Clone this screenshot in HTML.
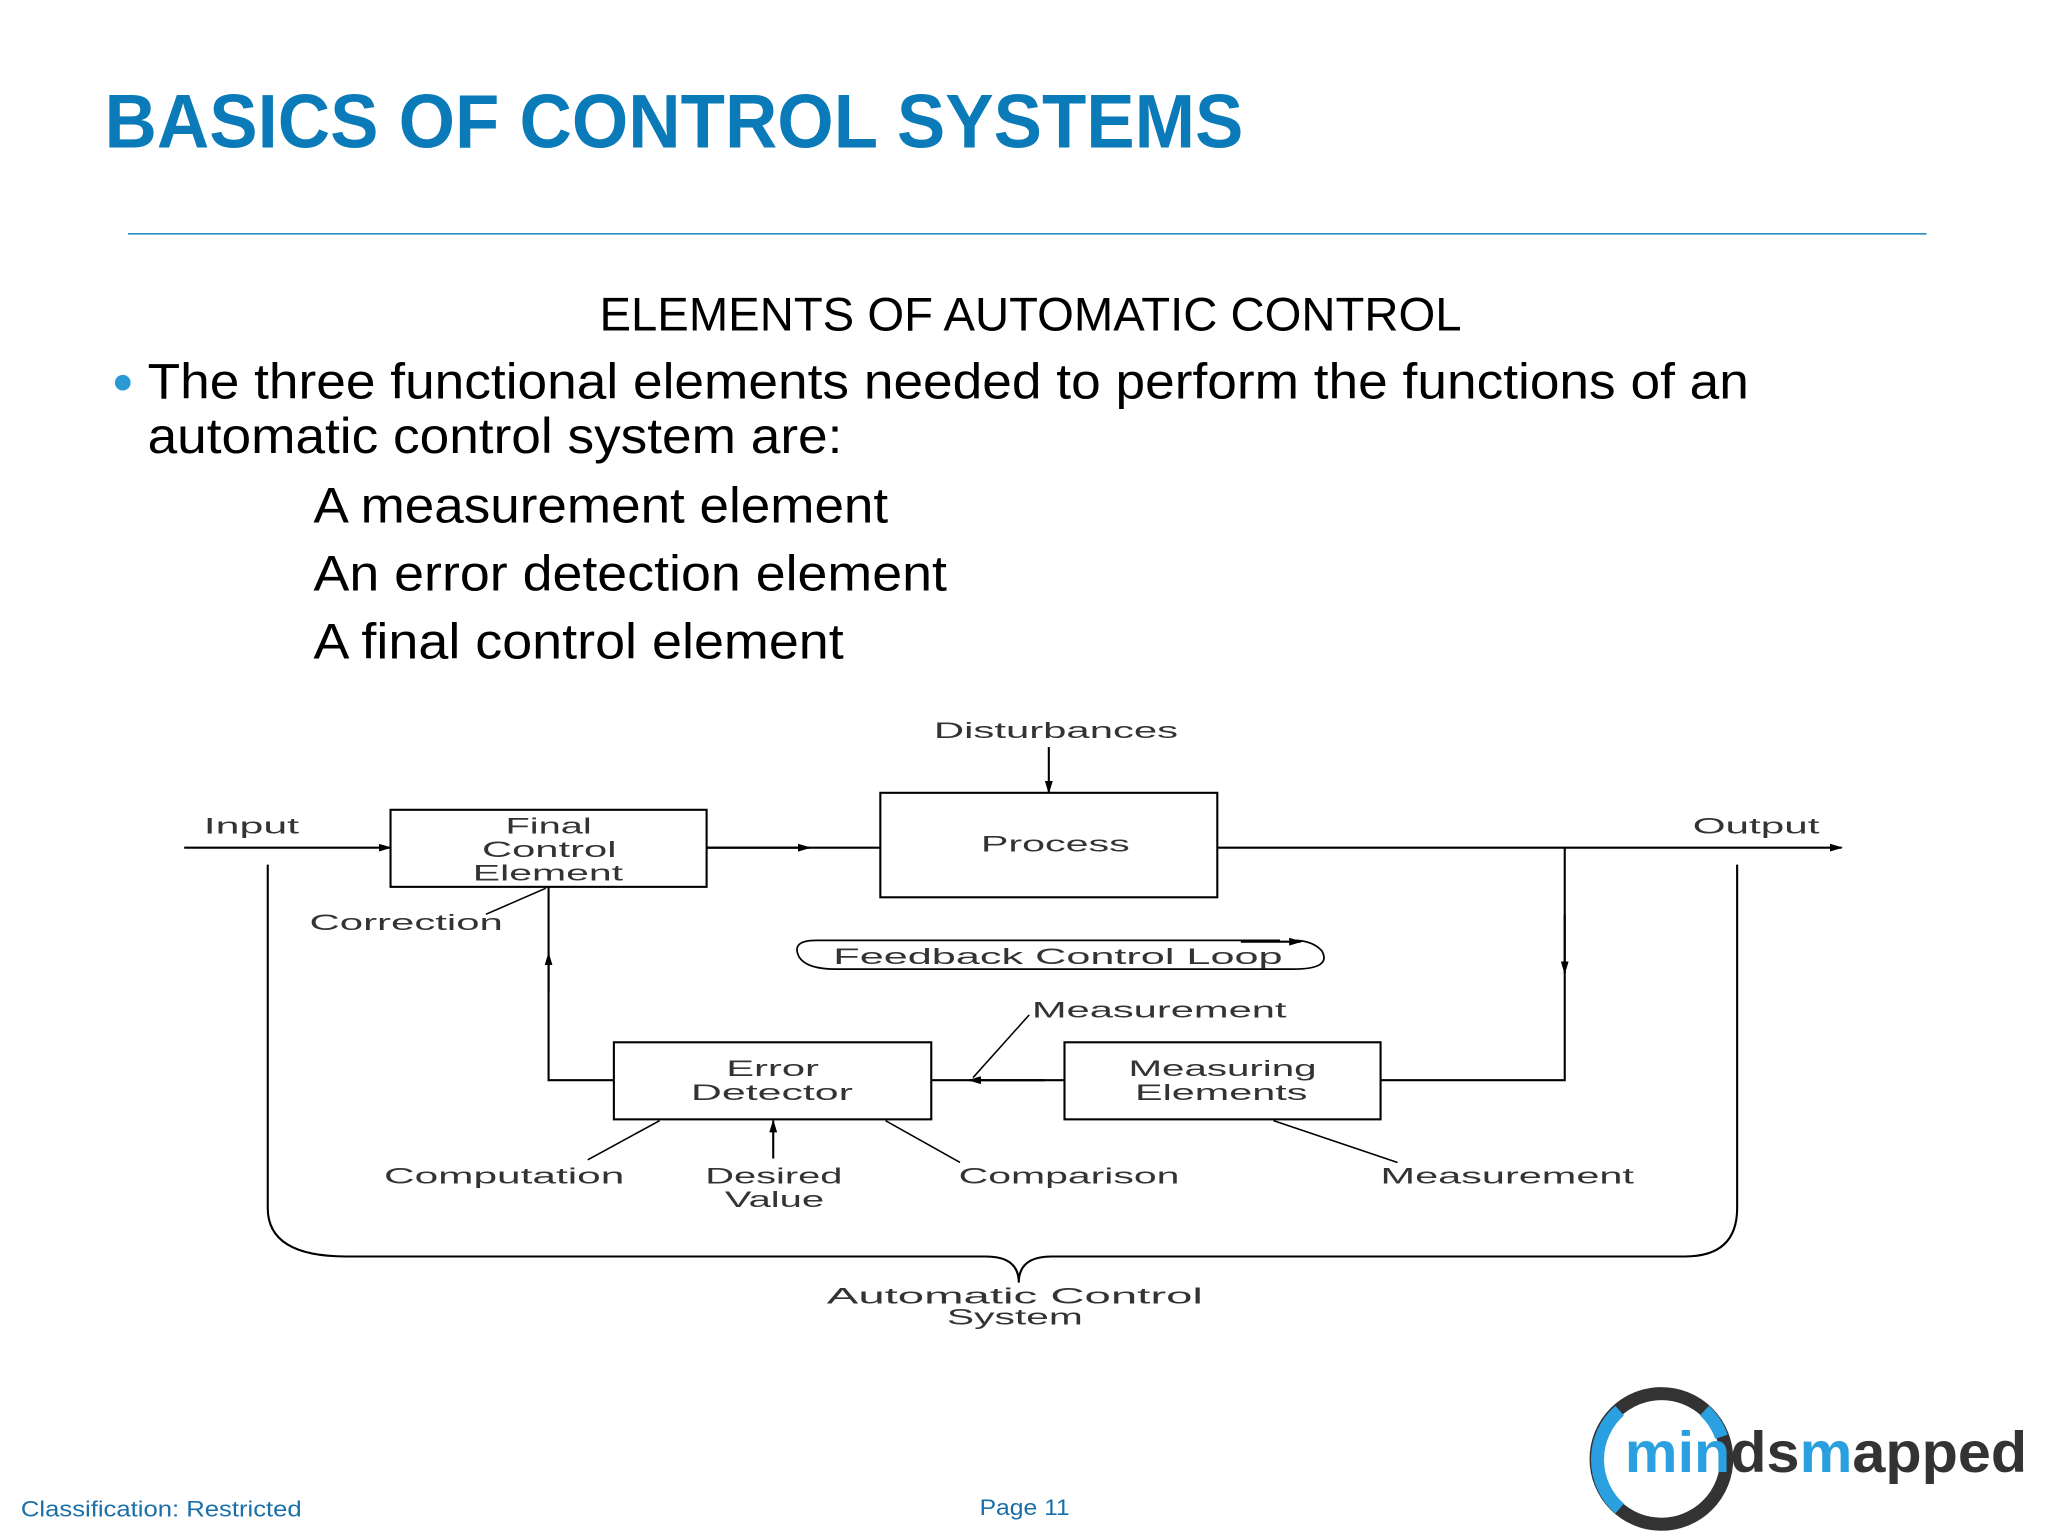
<!DOCTYPE html>
<html><head><meta charset="utf-8"><style>
html,body{margin:0;padding:0;background:#fff;}
svg{display:block;}
.d{font-family:"Liberation Sans",sans-serif;font-size:17px;fill:#333;}
.b{font-family:"Liberation Sans",sans-serif;fill:#000;}
</style></head><body>
<svg width="2048" height="1536" viewBox="0 0 1568 1176" preserveAspectRatio="none" xmlns="http://www.w3.org/2000/svg">
<defs><marker id="a" markerWidth="10" markerHeight="8" refX="9" refY="4" orient="auto" markerUnits="userSpaceOnUse"><path d="M0,1 L10,4 L0,7 Z" fill="#000"/></marker></defs>
<text x="80" y="113" class="b" font-size="58" font-weight="bold" style="fill:#0a7bb8" textLength="872" lengthAdjust="spacingAndGlyphs">BASICS OF CONTROL SYSTEMS</text>
<line x1="98" y1="179" x2="1475" y2="179" stroke="#2a8ac4" stroke-width="1.2"/>
<text x="459" y="253" class="b" font-size="36" textLength="660" lengthAdjust="spacingAndGlyphs">ELEMENTS OF AUTOMATIC CONTROL</text>
<circle cx="94" cy="293" r="6" fill="#2a9ad4"/>
<text x="113" y="305" class="b" font-size="38" textLength="1226" lengthAdjust="spacingAndGlyphs">The three functional elements needed to perform the functions of an</text>
<text x="113" y="347" class="b" font-size="38" textLength="532" lengthAdjust="spacingAndGlyphs">automatic control system are:</text>
<text x="240" y="400" class="b" font-size="38" textLength="440" lengthAdjust="spacingAndGlyphs">A measurement element</text>
<text x="240" y="452" class="b" font-size="38" textLength="485" lengthAdjust="spacingAndGlyphs">An error detection element</text>
<text x="240" y="504" class="b" font-size="38" textLength="406" lengthAdjust="spacingAndGlyphs">A final control element</text>

<g stroke="#000" stroke-width="1.6" fill="none">
<rect x="299" y="620" width="242" height="59"/>
<rect x="674" y="607" width="258" height="80"/>
<rect x="470" y="798" width="243" height="59"/>
<rect x="815" y="798" width="242" height="59"/>
<line x1="141" y1="649" x2="299" y2="649" marker-end="url(#a)"/>
<line x1="541" y1="649" x2="674" y2="649"/>
<line x1="541" y1="649" x2="620" y2="649" marker-end="url(#a)"/>
<line x1="932" y1="649" x2="1410" y2="649" marker-end="url(#a)"/>
<line x1="803" y1="572" x2="803" y2="607" marker-end="url(#a)"/>
<polyline points="1198,649 1198,827 1057,827"/>
<line x1="1198" y1="700" x2="1198" y2="745" marker-end="url(#a)"/>
<line x1="815" y1="827" x2="713" y2="827"/>
<line x1="800" y1="827" x2="742" y2="827" marker-end="url(#a)"/>
<polyline points="470,827 420,827 420,679"/>
<line x1="420" y1="760" x2="420" y2="730" marker-end="url(#a)"/>
<line x1="592" y1="887" x2="592" y2="858" marker-end="url(#a)"/>
<line x1="788" y1="777" x2="745" y2="825" stroke-width="1.2"/>
<line x1="450" y1="888" x2="505" y2="858" stroke-width="1.2"/>
<line x1="735" y1="890" x2="678" y2="858" stroke-width="1.2"/>
<line x1="1070" y1="890" x2="975" y2="858" stroke-width="1.2"/>
<line x1="372" y1="700" x2="418" y2="680" stroke-width="1.2"/>
<path d="M205,662 V925 Q205,962 265,962 H755 Q780,962 780,982 Q780,962 805,962 H1290 Q1330,962 1330,925 V662"/>
<path d="M980,720 H625 Q605,720 612,733 Q618,742 640,742 H990 Q1020,742 1012,728 Q1005,720 990,720" stroke-width="1.3"/>
<line x1="950" y1="721" x2="996" y2="721" marker-end="url(#a)"/>
</g>
<g class="d">
<text x="715" y="565" textLength="187" lengthAdjust="spacingAndGlyphs">Disturbances</text>
<text x="156" y="638" textLength="73" lengthAdjust="spacingAndGlyphs">Input</text>
<text x="1296" y="638" textLength="97" lengthAdjust="spacingAndGlyphs">Output</text>
<text x="387" y="638" textLength="66" lengthAdjust="spacingAndGlyphs">Final</text>
<text x="369" y="656" textLength="103" lengthAdjust="spacingAndGlyphs">Control</text>
<text x="362" y="674" textLength="115" lengthAdjust="spacingAndGlyphs">Element</text>
<text x="751" y="652" textLength="114" lengthAdjust="spacingAndGlyphs">Process</text>
<text x="237" y="712" textLength="148" lengthAdjust="spacingAndGlyphs">Correction</text>
<text x="638" y="738" textLength="344" lengthAdjust="spacingAndGlyphs">Feedback  Control  Loop</text>
<text x="790" y="779" textLength="195" lengthAdjust="spacingAndGlyphs">Measurement</text>
<text x="556" y="824" textLength="71" lengthAdjust="spacingAndGlyphs">Error</text>
<text x="529" y="842" textLength="124" lengthAdjust="spacingAndGlyphs">Detector</text>
<text x="864" y="824" textLength="144" lengthAdjust="spacingAndGlyphs">Measuring</text>
<text x="869" y="842" textLength="132" lengthAdjust="spacingAndGlyphs">Elements</text>
<text x="294" y="906" textLength="184" lengthAdjust="spacingAndGlyphs">Computation</text>
<text x="540" y="906" textLength="105" lengthAdjust="spacingAndGlyphs">Desired</text>
<text x="555" y="924" textLength="76" lengthAdjust="spacingAndGlyphs">Value</text>
<text x="734" y="906" textLength="169" lengthAdjust="spacingAndGlyphs">Comparison</text>
<text x="1057" y="906" textLength="194" lengthAdjust="spacingAndGlyphs">Measurement</text>
<text x="633" y="998" textLength="288" lengthAdjust="spacingAndGlyphs">Automatic    Control</text>
<text x="725" y="1014" textLength="104" lengthAdjust="spacingAndGlyphs">System</text>
</g>
<circle cx="1272" cy="1117" r="50" fill="none" stroke="#333" stroke-width="10"/>
<path d="M1240,1080 A50,50 0 0,0 1240,1155" fill="none" stroke="#2aa0e0" stroke-width="10"/>
<path d="M1305,1080 A50,50 0 0,1 1318,1100" fill="none" stroke="#2aa0e0" stroke-width="10"/>
<text x="1244" y="1127" font-family="Liberation Sans,sans-serif" font-weight="bold" font-size="44" textLength="308" lengthAdjust="spacingAndGlyphs"><tspan fill="#2aa0e0">min</tspan><tspan fill="#333">ds</tspan><tspan fill="#2aa0e0">m</tspan><tspan fill="#333">apped</tspan></text>
<text x="16" y="1161" font-family="Liberation Sans,sans-serif" font-size="17" fill="#1a6fa8" textLength="215" lengthAdjust="spacingAndGlyphs">Classification: Restricted</text>
<text x="750" y="1160" font-family="Liberation Sans,sans-serif" font-size="17" fill="#1a6fa8" textLength="69" lengthAdjust="spacingAndGlyphs">Page 11</text>
</svg>
</body></html>
